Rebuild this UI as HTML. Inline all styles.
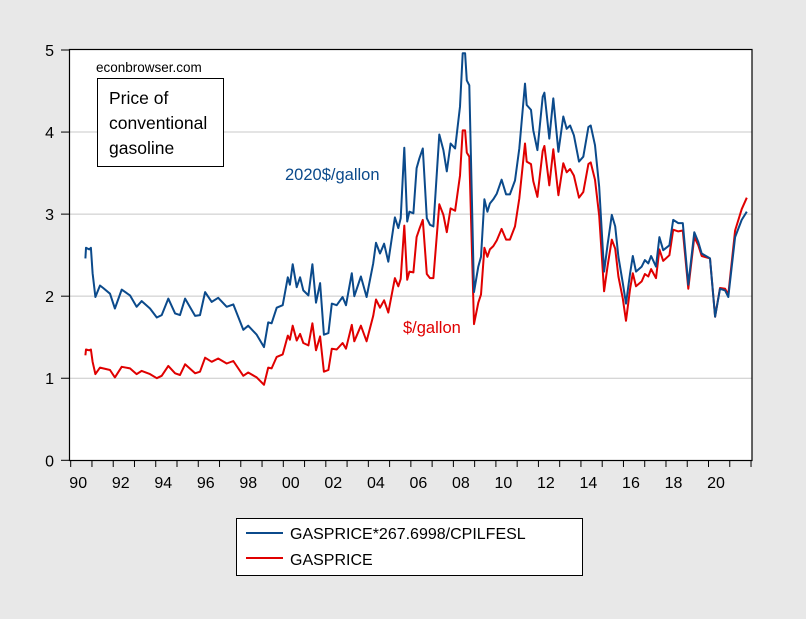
<!DOCTYPE html>
<html><head><meta charset="utf-8"><style>
body{margin:0;background:#e8e8e8;}
svg{display:block;font-family:"Liberation Sans",sans-serif;}
</style></head><body>
<svg id="chart" width="806" height="619" xmlns="http://www.w3.org/2000/svg">
<rect x="0" y="0" width="806" height="619" fill="#e8e8e8"/>
<rect x="69.5" y="49.5" width="682.5" height="411" fill="#fff"/>
<g id="grid"></g>
<g id="axes"></g>
<g id="series"></g>
<rect x="69.5" y="49.5" width="682.5" height="411" fill="none" stroke="#000" stroke-width="1.2"/>
<text x="96" y="72" font-size="13.5" fill="#000">econbrowser.com</text>
<g>
<rect x="97.5" y="78.5" width="126" height="88" fill="#fff" stroke="#000" stroke-width="1"/>
<text x="109" y="104" font-size="17.5">Price of</text>
<text x="109" y="129" font-size="17.5">conventional</text>
<text x="109" y="154" font-size="17.5">gasoline</text>
</g>
<text x="285" y="180" font-size="16.5" fill="#0b4a8b">2020$/gallon</text>
<text x="403" y="333" font-size="16.5" fill="#e00000">$/gallon</text>
<g>
<rect x="236.5" y="518.5" width="346" height="57" fill="#fff" stroke="#000" stroke-width="1"/>
<line x1="246" y1="533" x2="283" y2="533" stroke="#0b4a8b" stroke-width="2"/>
<text x="290" y="539" font-size="16">GASPRICE*267.6998/CPILFESL</text>
<line x1="246" y1="558" x2="283" y2="558" stroke="#e00000" stroke-width="2"/>
<text x="290" y="565" font-size="16">GASPRICE</text>
</g>
</svg>
<script>
const dates=[1990.69,1990.72,1990.87,1990.95,1991.03,1991.16,1991.38,1991.53,1991.85,1992.08,1992.40,1992.79,1993.10,1993.34,1993.73,1994.05,1994.28,1994.59,1994.91,1995.14,1995.38,1995.85,1996.08,1996.32,1996.63,1996.94,1997.34,1997.65,1998.12,1998.35,1998.75,1999.09,1999.29,1999.45,1999.69,1999.97,2000.21,2000.31,2000.44,2000.63,2000.79,2000.94,2001.18,2001.37,2001.54,2001.73,2001.91,2002.12,2002.28,2002.51,2002.79,2002.95,2003.22,2003.34,2003.65,2003.92,2004.23,2004.36,2004.55,2004.74,2004.94,2005.25,2005.41,2005.52,2005.69,2005.83,2005.93,2006.12,2006.27,2006.40,2006.56,2006.75,2006.90,2007.06,2007.34,2007.53,2007.69,2007.87,2008.08,2008.31,2008.44,2008.55,2008.63,2008.75,2008.97,2009.17,2009.30,2009.46,2009.60,2009.72,2009.88,2010.04,2010.27,2010.48,2010.66,2010.90,2011.10,2011.37,2011.45,2011.65,2011.76,2011.95,2012.20,2012.28,2012.51,2012.70,2012.94,2013.17,2013.33,2013.49,2013.67,2013.91,2014.11,2014.35,2014.46,2014.66,2014.86,2015.09,2015.25,2015.45,2015.61,2015.76,2015.97,2016.12,2016.31,2016.44,2016.59,2016.86,2017.01,2017.17,2017.30,2017.53,2017.69,2017.87,2018.16,2018.34,2018.58,2018.79,2019.05,2019.33,2019.52,2019.68,2020.07,2020.31,2020.54,2020.78,2020.93,2021.25,2021.56,2021.80];
const realPrice=[2.46,2.59,2.57,2.59,2.28,1.99,2.13,2.10,2.03,1.85,2.08,2.01,1.87,1.94,1.85,1.74,1.77,1.97,1.79,1.77,1.97,1.76,1.77,2.05,1.93,1.98,1.87,1.90,1.59,1.64,1.53,1.38,1.68,1.67,1.86,1.89,2.23,2.14,2.39,2.11,2.23,2.07,2.01,2.39,1.92,2.16,1.53,1.55,1.91,1.89,1.99,1.89,2.28,2.00,2.24,1.99,2.40,2.65,2.52,2.64,2.42,2.96,2.83,2.95,3.81,2.91,3.03,3.01,3.56,3.68,3.80,2.95,2.87,2.85,3.97,3.78,3.52,3.86,3.80,4.31,4.96,4.96,4.63,4.57,2.05,2.36,2.48,3.18,3.03,3.13,3.18,3.25,3.42,3.24,3.24,3.41,3.80,4.59,4.33,4.27,4.02,3.78,4.43,4.48,3.92,4.41,3.76,4.19,4.04,4.08,3.96,3.64,3.70,4.06,4.08,3.84,3.33,2.30,2.62,2.99,2.85,2.48,2.16,1.91,2.28,2.49,2.30,2.36,2.44,2.40,2.49,2.36,2.72,2.56,2.62,2.93,2.89,2.89,2.14,2.78,2.66,2.52,2.46,1.75,2.09,2.07,1.99,2.72,2.93,3.03];
const nominalPrice=[1.28,1.35,1.34,1.35,1.20,1.05,1.13,1.12,1.10,1.01,1.14,1.12,1.05,1.09,1.05,1.00,1.03,1.15,1.06,1.04,1.17,1.06,1.08,1.25,1.20,1.24,1.18,1.21,1.03,1.07,1.01,0.92,1.13,1.12,1.26,1.29,1.52,1.47,1.64,1.46,1.54,1.43,1.40,1.67,1.34,1.51,1.08,1.10,1.36,1.35,1.43,1.36,1.65,1.45,1.64,1.45,1.76,1.96,1.86,1.95,1.80,2.22,2.12,2.21,2.86,2.20,2.30,2.29,2.72,2.82,2.93,2.27,2.22,2.22,3.12,2.99,2.78,3.07,3.04,3.47,4.02,4.02,3.75,3.70,1.66,1.92,2.02,2.59,2.48,2.57,2.61,2.68,2.82,2.69,2.69,2.85,3.19,3.86,3.64,3.61,3.40,3.21,3.77,3.83,3.35,3.79,3.23,3.62,3.51,3.55,3.47,3.20,3.27,3.61,3.63,3.42,2.98,2.06,2.36,2.69,2.58,2.24,1.97,1.70,2.09,2.28,2.12,2.18,2.27,2.24,2.33,2.22,2.57,2.43,2.50,2.81,2.79,2.80,2.09,2.72,2.62,2.49,2.46,1.75,2.10,2.09,2.02,2.80,3.06,3.20];
const yTicks=[0,1,2,3,4,5];
const xTickYears=[1990,1991,1992,1993,1994,1995,1996,1997,1998,1999,2000,2001,2002,2003,2004,2005,2006,2007,2008,2009,2010,2011,2012,2013,2014,2015,2016,2017,2018,2019,2020,2021,2022];
const xLabelYears=[1990,1992,1994,1996,1998,2000,2002,2004,2006,2008,2010,2012,2014,2016,2018,2020];
const xLabels=["90","92","94","96","98","00","02","04","06","08","10","12","14","16","18","20"];

const NS="http://www.w3.org/2000/svg";
const xS=d=>70.7+(d-1990)*21.26;
const yS=v=>460.3-v*82.06;
function mk(tag,attrs,parent,txt){const e=document.createElementNS(NS,tag);for(const k in attrs)e.setAttribute(k,attrs[k]);if(txt!==undefined)e.textContent=txt;parent.appendChild(e);return e;}
const grid=document.getElementById('grid'),axes=document.getElementById('axes'),series=document.getElementById('series');
yTicks.forEach(v=>{
  if(v>0&&v<5){const g=mk('line',{x1:69.5,x2:752,y1:yS(v),y2:yS(v),stroke:'#c8c8c8','stroke-width':1},grid);
  
  }
  const t=mk('line',{x1:61,x2:69.5,y1:yS(v),y2:yS(v),stroke:'#000','stroke-width':1},axes);
  
  
  const l=mk('text',{x:54,y:yS(v)+6,'font-size':16,'text-anchor':'end'},axes,String(v));
  
  
});
xTickYears.forEach(y=>{
  const t=mk('line',{x1:xS(y),x2:xS(y),y1:460.5,y2:467,stroke:'#000','stroke-width':1},axes);
  
  
});
xLabelYears.forEach((y,i)=>{
  const l=mk('text',{x:xS(y)+7.5,y:488,'font-size':16,'text-anchor':'middle'},axes,xLabels[i]);
  
  
});
function line(vals,color,name){
  const d=vals.map((v,i)=>(i?'L':'M')+xS(dates[i]).toFixed(1)+' '+yS(v).toFixed(1)).join(' ');
  const p=mk('path',{d:d,fill:'none',stroke:color,'stroke-width':2,'stroke-linejoin':'round'},series);
  
  
}
line(nominalPrice,'#e00000','nominal-price-line');
line(realPrice,'#0b4a8b','real-price-line');
</script>
</body></html>
